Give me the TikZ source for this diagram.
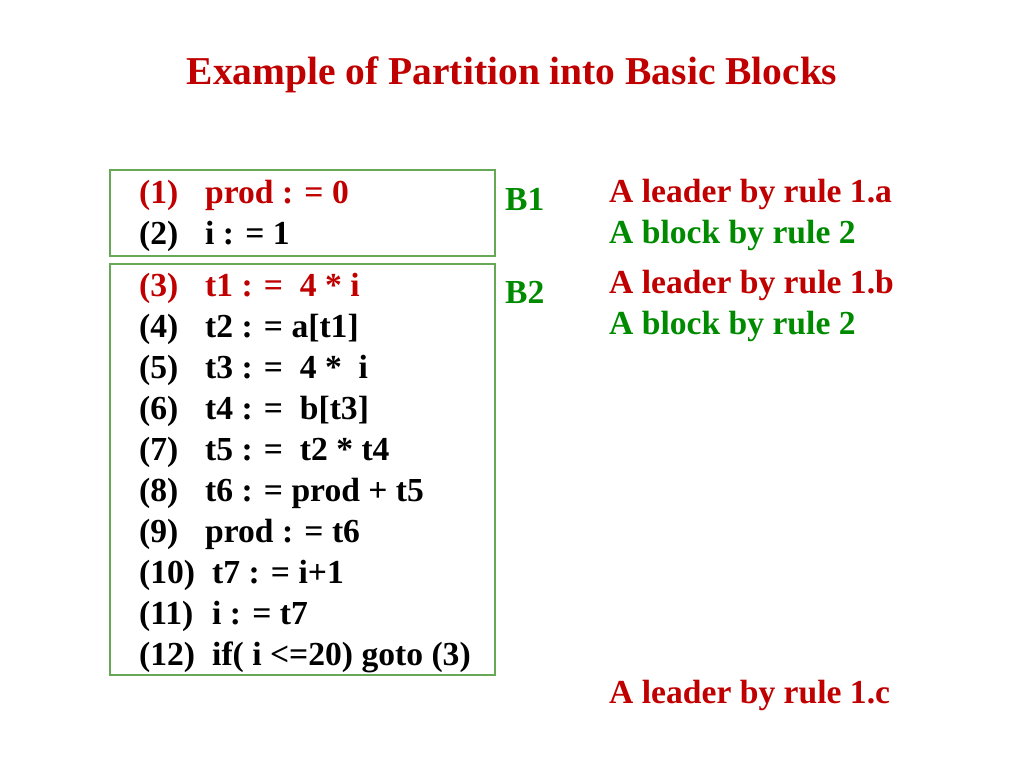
\documentclass[tikz,border=0pt]{standalone}
\usepackage{fontspec}
\setmainfont{Liberation Serif}
\definecolor{tred}{HTML}{C00000}
\definecolor{tgreen}{HTML}{008A00}
\definecolor{bgreen}{HTML}{66A855}
\tikzset{
  code/.style={anchor=base west, inner sep=0pt, font=\fontsize{33.6}{38}\selectfont\bfseries},
  note/.style={anchor=base west, inner sep=0pt, font=\fontsize{33.6}{38}\selectfont\bfseries},
  blockbox/.style={draw=bgreen, line width=1.3pt}
}
\begin{document}
\begin{tikzpicture}[x=1pt,y=-1pt]
\useasboundingbox (0,0) rectangle (1024,768);
\node[anchor=base, inner sep=0pt, text=tred, font=\fontsize{39.5}{44}\selectfont\bfseries] (title) at (512,84) {Example of Partition into Basic Blocks};
% boxes
\draw[blockbox] (110,170) rectangle (495,256);
\draw[blockbox] (110,264) rectangle (495,675);
% code lines
\node[code, text=tred] (n1) at (139,203) {(1)};
\node[code, text=tred] (s1) at (205,203) {prod : = 0};
\node[code] (n2) at (139,244) {(2)};
\node[code] (s2) at (205,244) {i : = 1};
\node[code, text=tred] (n3) at (139,296) {(3)};
\node[code, text=tred] (s3) at (205,296) {t1 : =\ \ 4 * i};
\node[code] (n4) at (139,337) {(4)};
\node[code] (s4) at (205,337) {t2 : = a[t1]};
\node[code] (n5) at (139,378) {(5)};
\node[code] (s5) at (205,378) {t3 : =\ \ 4 *\ \ i};
\node[code] (n6) at (139,419) {(6)};
\node[code] (s6) at (205,419) {t4 : =\ \ b[t3]};
\node[code] (n7) at (139,460) {(7)};
\node[code] (s7) at (205,460) {t5 : =\ \ t2 * t4};
\node[code] (n8) at (139,501) {(8)};
\node[code] (s8) at (205,501) {t6 : = prod + t5};
\node[code] (n9) at (139,542) {(9)};
\node[code] (s9) at (205,542) {prod : = t6};
\node[code] (n10) at (139,583) {(10)};
\node[code] (s10) at (212,583) {t7 : = i+1};
\node[code] (n11) at (139,624) {(11)};
\node[code] (s11) at (212,624) {i : = t7};
\node[code] (n12) at (139,665) {(12)};
\node[code] (s12) at (212,665) {if( i <=20) goto (3)};
% block labels
\node[note, text=tgreen] (b1) at (505,210) {B1};
\node[note, text=tgreen] (b2) at (505,303) {B2};
% notes
\node[note, text=tred] (r1) at (609,202) {A leader by rule 1.a};
\node[note, text=tgreen] (r2) at (609,243) {A block by rule 2};
\node[note, text=tred] (r3) at (609,293) {A leader by rule 1.b};
\node[note, text=tgreen] (r4) at (609,334) {A block by rule 2};
\node[note, text=tred] (r5) at (609,703) {A leader by rule 1.c};
\end{tikzpicture}
\end{document}
